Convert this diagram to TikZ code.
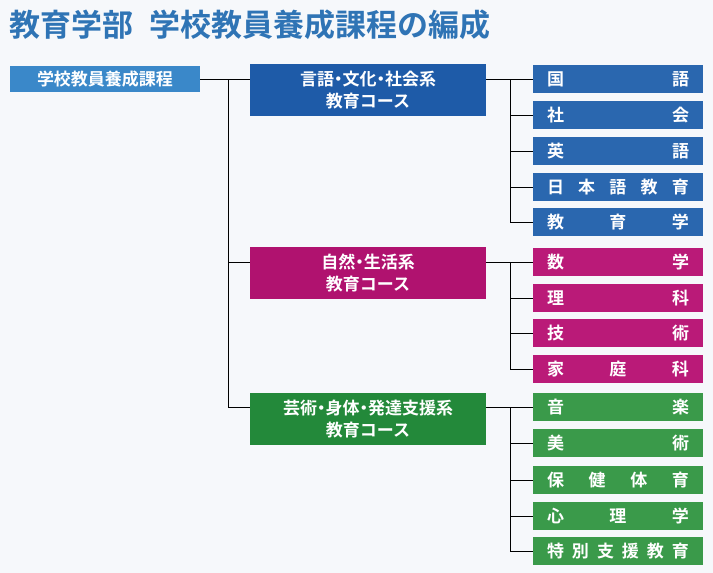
\documentclass[tikz,border=0pt]{standalone}
\usepackage{fontspec}
\setmainfont{Noto Sans CJK JP}[BoldFont={Noto Sans CJK JP Bold}]
\usetikzlibrary{positioning}
\definecolor{bgpage}{HTML}{F6F8FB}
\definecolor{titleblue}{HTML}{2F74B5}
\definecolor{rootblue}{HTML}{3A88C9}
\definecolor{langblue}{HTML}{1E5BA8}
\definecolor{leafblue}{HTML}{2A67AF}
\definecolor{natmag}{HTML}{B0126F}
\definecolor{leafmag}{HTML}{BA1A78}
\definecolor{artgreen}{HTML}{23893A}
\definecolor{leafgreen}{HTML}{3A9A4A}
\newcommand{\spread}[1]{\hbox to 142pt{#1}}
\newcommand{\ndot}{\kern-0.25em・\kern-0.25em}

\begin{document}
\begin{tikzpicture}[x=1pt,y=-1pt,
  rootbox/.style={fill=rootblue,text=white,font=\bfseries\fontsize{17}{19}\selectfont,minimum width=190pt,minimum height=26pt,inner sep=0pt},
  coursebox/.style={text=white,font=\bfseries\fontsize{17}{22}\selectfont,minimum width=236pt,minimum height=52pt,align=center,inner sep=0pt},
  leafbox/.style={text=white,font=\bfseries\fontsize{17}{19}\selectfont,minimum width=170pt,minimum height=28pt,inner sep=0pt},
  link/.style={draw=black,line width=0.8pt}]
  \fill[bgpage] (0,0) rectangle (713,573);
  \node[anchor=west,text=titleblue,font=\bfseries\fontsize{31}{33}\selectfont] (title) at (6,25) {教育学部\hspace{0.5em}学校教員養成課程の編成};
  \node[rootbox] (root) at (105,79) {学校教員養成課程};
  \node[coursebox,fill=langblue] (lang) at (368,90) {言語\ndot 文化\ndot 社会系\\教育コース};
  \node[coursebox,fill=natmag] (nat) at (368,273) {自然\ndot 生活系\\教育コース};
  \node[coursebox,fill=artgreen] (art) at (368,419) {芸術\ndot 身体\ndot 発達支援系\\教育コース};
  % leaves
  \node[leafbox,fill=leafblue] (l1) at (618,79) {\spread{国\hfill 語}};
  \node[leafbox,fill=leafblue] (l2) at (618,115) {\spread{社\hfill 会}};
  \node[leafbox,fill=leafblue] (l3) at (618,151) {\spread{英\hfill 語}};
  \node[leafbox,fill=leafblue] (l4) at (618,187) {\spread{日\hfill 本\hfill 語\hfill 教\hfill 育}};
  \node[leafbox,fill=leafblue] (l5) at (618,222) {\spread{教\hfill 育\hfill 学}};
  \node[leafbox,fill=leafmag] (n1) at (618,262) {\spread{数\hfill 学}};
  \node[leafbox,fill=leafmag] (n2) at (618,298) {\spread{理\hfill 科}};
  \node[leafbox,fill=leafmag] (n3) at (618,333) {\spread{技\hfill 術}};
  \node[leafbox,fill=leafmag] (n4) at (618,369) {\spread{家\hfill 庭\hfill 科}};
  \node[leafbox,fill=leafgreen] (a1) at (618,407) {\spread{音\hfill 楽}};
  \node[leafbox,fill=leafgreen] (a2) at (618,443) {\spread{美\hfill 術}};
  \node[leafbox,fill=leafgreen] (a3) at (618,480) {\spread{保\hfill 健\hfill 体\hfill 育}};
  \node[leafbox,fill=leafgreen] (a4) at (618,516) {\spread{心\hfill 理\hfill 学}};
  \node[leafbox,fill=leafgreen] (a5) at (618,551) {\spread{特\hfill 別\hfill 支\hfill 援\hfill 教\hfill 育}};
  % root to courses
  \coordinate (rj) at (228,79);
  \draw[link] (root.east) -- (lang.west |- root.east);
  \draw[link] (rj) |- (nat.west |- n1.west);
  \draw[link] (rj) |- (art.west |- a1.west);
  % courses to leaves
  \coordinate (lj) at (510,79);
  \coordinate (nj) at (510,262);
  \coordinate (aj) at (510,407);
  \draw[link] (lang.east |- l1.west) -- (l1.west);
  \draw[link] (nat.east |- n1.west) -- (n1.west);
  \draw[link] (art.east |- a1.west) -- (a1.west);
  \foreach \leaf in {l2,l3,l4,l5} \draw[link] (lj) |- (\leaf.west);
  \foreach \leaf in {n2,n3,n4} \draw[link] (nj) |- (\leaf.west);
  \foreach \leaf in {a2,a3,a4,a5} \draw[link] (aj) |- (\leaf.west);
\end{tikzpicture}
\end{document}
